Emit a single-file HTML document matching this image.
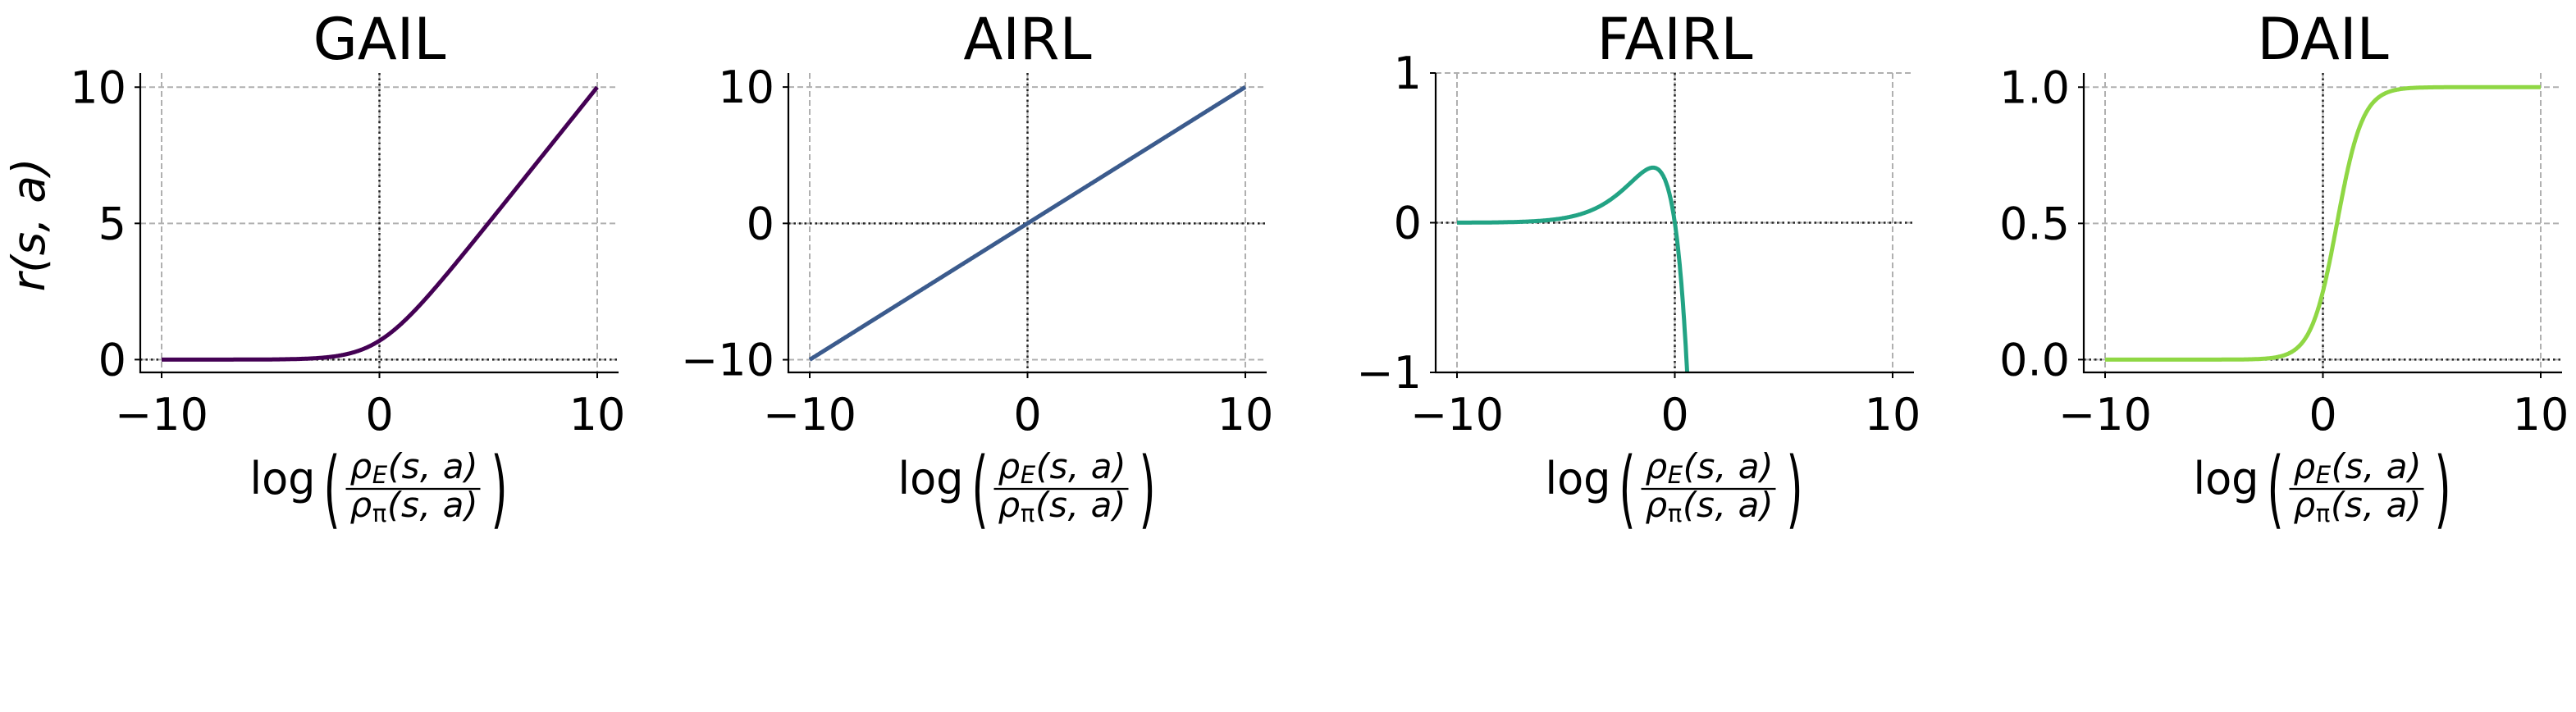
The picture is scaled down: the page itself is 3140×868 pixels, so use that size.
<!DOCTYPE html>
<html><head><meta charset="utf-8"><style>
html,body{margin:0;padding:0;background:#fff;overflow:hidden;width:3140px;height:868px;}
svg{display:block;font-family:"DejaVu Sans","Liberation Sans",sans-serif;}
</style></head><body>
<svg width="3140" height="868" viewBox="0 0 3140 868" xmlns="http://www.w3.org/2000/svg"><g id="s"></g></svg>
<script>
(function(){
var S=document.getElementById('s');
var html='';
var panels=[
 {x0:171,title:'GAIL',col:'#440154',ylim:[-0.47,10.52],yt:[[0,'0'],[5,'5'],[10,'10']],f:function(x){return Math.log(1+Math.exp(x));}},
 {x0:961,title:'AIRL',col:'#3b5b8d',ylim:[-10.93,11.03],yt:[[-10,'\u221210'],[0,'0'],[10,'10']],f:function(x){return x;}},
 {x0:1750,title:'FAIRL',col:'#22a384',ylim:[-1,1],yt:[[-1,'\u22121'],[0,'0'],[1,'1']],f:function(x){return -x*Math.exp(x);}},
 {x0:2540,title:'DAIL',col:'#8fd744',ylim:[-0.047,1.052],yt:[[0,'0.0'],[0.5,'0.5'],[1,'1.0']],f:function(x){return 1/(1+Math.exp(-(1.7*x-1.1)));}}
];
var T=89,B=454,W=583;
panels.forEach(function(p,i){
 var x0=p.x0,x1=x0+W;
 var X=function(v){return x0+W/2+v*26.55;};
 var Y=function(v){return B-(v-p.ylim[0])/(p.ylim[1]-p.ylim[0])*(B-T);};
 html+='<clipPath id="c'+i+'"><rect x="'+x0+'" y="'+T+'" width="'+W+'" height="'+(B-T)+'"/></clipPath>';
 [-10,0,10].forEach(function(v){html+='<line x1="'+X(v)+'" y1="'+T+'" x2="'+X(v)+'" y2="'+B+'" stroke="#b0b0b0" stroke-width="2" stroke-dasharray="7,4"/>';});
 p.yt.forEach(function(t){html+='<line x1="'+x0+'" y1="'+Y(t[0])+'" x2="'+x1+'" y2="'+Y(t[0])+'" stroke="#b0b0b0" stroke-width="2" stroke-dasharray="7,4"/>';});
 html+='<line x1="'+X(0)+'" y1="'+T+'" x2="'+X(0)+'" y2="'+B+'" stroke="#222" stroke-width="2.5" stroke-dasharray="2.5,4"/>';
 html+='<line x1="'+x0+'" y1="'+Y(0)+'" x2="'+x1+'" y2="'+Y(0)+'" stroke="#222" stroke-width="2.5" stroke-dasharray="2.5,4"/>';
 var pts=[];
 for(var k=0;k<=800;k++){var v=-10+20*k/800;var y=p.f(v);if(y<-30)y=-30;pts.push(X(v).toFixed(1)+','+Y(y).toFixed(1));}
 html+='<polyline clip-path="url(#c'+i+')" points="'+pts.join(' ')+'" fill="none" stroke="'+p.col+'" stroke-width="5" stroke-linejoin="round"/>';
 html+='<line x1="'+x0+'" y1="'+T+'" x2="'+x0+'" y2="'+(B+1)+'" stroke="#000" stroke-width="2.2"/>';
 html+='<line x1="'+(x0-1)+'" y1="'+B+'" x2="'+x1+'" y2="'+B+'" stroke="#000" stroke-width="2.2"/>';
 [[-10,'\u221210'],[0,'0'],[10,'10']].forEach(function(t){
  html+='<line x1="'+X(t[0])+'" y1="'+B+'" x2="'+X(t[0])+'" y2="'+(B+7)+'" stroke="#000" stroke-width="2"/>';
  html+='<text x="'+X(t[0])+'" y="524" font-size="54" text-anchor="middle">'+t[1]+'</text>';
 });
 p.yt.forEach(function(t){
  html+='<line x1="'+(x0-7)+'" y1="'+Y(t[0])+'" x2="'+x0+'" y2="'+Y(t[0])+'" stroke="#000" stroke-width="2"/>';
  html+='<text x="'+(x0-17)+'" y="'+(Y(t[0])+19)+'" font-size="54" text-anchor="end">'+t[1]+'</text>';
 });
 html+='<text x="'+(x0+W/2)+'" y="72" font-size="70" text-anchor="middle">'+p.title+'</text>';
 var c=x0+W/2-3;
 html+='<text x="'+(c-155)+'" y="602" font-size="54" textLength="80" lengthAdjust="spacingAndGlyphs">log</text>';
 html+='<text x="0" y="0" font-size="103" transform="translate('+(c-65)+',631) scale(0.5,1)">(</text>';
 html+='<text x="'+(c-33)+'" y="583" font-size="42" font-style="italic" textLength="156" lengthAdjust="spacing">\u03c1<tspan font-size="29" dy="6">E</tspan><tspan dy="-6">(s, a)</tspan></text>';
 html+='<line x1="'+(c-38)+'" y1="596" x2="'+(c+126)+'" y2="596" stroke="#000" stroke-width="2.2"/>';
 html+='<text x="'+(c-33)+'" y="630" font-size="42" font-style="italic" textLength="156" lengthAdjust="spacing">\u03c1<tspan font-size="29" dy="6" font-style="normal">\u03c0</tspan><tspan dy="-6">(s, a)</tspan></text>';
 html+='<text x="0" y="0" font-size="103" transform="translate('+(c+139)+',631) scale(0.5,1)">)</text>';
});
html+='<text transform="translate(54,274) rotate(-90)" font-size="55" font-style="italic" text-anchor="middle">r(s, a)</text>';
S.innerHTML=html;
})();
</script>
</body></html>
